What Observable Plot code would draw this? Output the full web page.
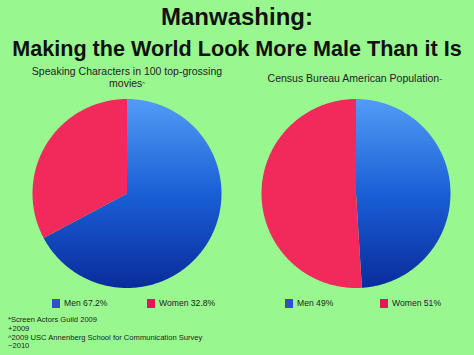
<!DOCTYPE html>
<html><head><meta charset="utf-8">
<script src="https://cdn.jsdelivr.net/npm/d3@7"></script>
<script src="https://cdn.jsdelivr.net/npm/@observablehq/plot@0.6"></script>
<style>
html,body{margin:0;padding:0;background:#98f88f;}
#wrap{position:relative;width:474px;height:355px;overflow:hidden;font-family:"Liberation Sans",Arial,sans-serif;color:#111;}
.title{position:absolute;left:0;width:474px;text-align:center;font-weight:bold;white-space:nowrap;}
#chart{position:absolute;left:0;top:62px;}
.sub{position:absolute;text-align:center;font-size:10.5px;line-height:11.5px;color:#222;}
.leg{position:absolute;font-size:8.6px;color:#222;white-space:nowrap;display:flex;align-items:center;}
.sw{display:inline-block;width:8px;height:9px;margin-right:4px;}
#notes{position:absolute;left:8px;top:316px;font-size:7.6px;line-height:8.8px;color:#222;}
.mk{font-size:5.5px;line-height:0;position:relative;top:-1px;}
</style></head>
<body><div id="wrap"></div>
<script>
// ---- data ----
const titleLines = ["Manwashing:", "Making the World Look More Male Than it Is"];
const chartIds = ["movies", "census"];
const chartTitles = [["Speaking Characters in 100 top-grossing", "movies"], ["Census Bureau American Population"]];
const chartMarks = ["^", "~"];
const genders = ["Men", "Women"];
const moviesValues = [67.2, 32.8];
const censusValues = [49, 51];
const legendLabels = [["Men 67.2%", "Women 32.8%"], ["Men 49%", "Women 51%"]];
const footnotes = ["*Screen Actors Guild 2009", "+2009", "^2009 USC Annenberg School for Communication Survey", "~2010"];

// ---- layout ----
const W = 474, H = 233;
const centersX = [126.5, 355.5];
const cy = 131, R = 94.5;
const colors = ["url(#blueGrad)", "#f2295b"];
const swatch = ["#2f4fd0", "#e8145a"];

const wrap = document.getElementById("wrap");
const t1 = document.createElement("div");
t1.className = "title"; t1.style.top = "3px"; t1.style.fontSize = "24px"; t1.textContent = titleLines[0];
wrap.appendChild(t1);
const t2 = document.createElement("div");
t2.className = "title"; t2.style.top = "36px"; t2.style.fontSize = "21.6px"; t2.textContent = titleLines[1];
wrap.appendChild(t2);

// slice polygons from d3.pie angles
const allValues = [moviesValues, censusValues];
const rows = [];
const pieGen = d3.pie().sort(null).value(d => d.v);
allValues.forEach((vals, ci) => {
  const arcs = pieGen(vals.map((v, i) => ({g: genders[i], v})));
  arcs.forEach(a => {
    const key = chartIds[ci] + "-" + a.data.g;
    rows.push({key, g: a.data.g, ci, a: null, r: 0});
    const n = Math.max(2, Math.ceil((a.endAngle - a.startAngle) / 0.01));
    for (let k = 0; k <= n; k++) {
      const ang = a.startAngle + (a.endAngle - a.startAngle) * k / n;
      rows.push({key, g: a.data.g, ci, a: ang, r: 1});
    }
  });
});
const px = d => centersX[d.ci] + (d.r ? R * Math.sin(d.a) : 0);
const py = d => cy - (d.r ? R * Math.cos(d.a) : 0);

const chart = Plot.plot({
  width: W, height: H, margin: 0,
  style: {background: "transparent"},
  x: {domain: [0, W], range: [0, W], axis: null},
  y: {domain: [0, H], range: [0, H], axis: null},
  color: {domain: genders, range: colors},
  marks: [
    Plot.line(rows, {x: px, y: py, z: "key", fill: "g", stroke: null, curve: "linear-closed"})
  ]
});
chart.id = "chart";
const defs = d3.select(chart).insert("defs", ":first-child");
const grad = defs.append("linearGradient").attr("id", "blueGrad").attr("x1", 0).attr("y1", 0).attr("x2", 0).attr("y2", 1);
grad.append("stop").attr("offset", "0%").attr("stop-color", "#529cf6");
grad.append("stop").attr("offset", "50%").attr("stop-color", "#1a5fd6");
grad.append("stop").attr("offset", "100%").attr("stop-color", "#0a2c9c");
wrap.appendChild(chart);

// subtitles (each line its own block)
const subPos = [{left: 22, top: 66, width: 210}, {left: 250, top: 73, width: 210}];
chartTitles.forEach((lines, i) => {
  lines.forEach((t, li) => {
    const d = document.createElement("div");
    d.className = "sub";
    Object.assign(d.style, {left: subPos[i].left + "px", top: (subPos[i].top + li * 11.5) + "px", width: subPos[i].width + "px"});
    d.innerHTML = t + (li === lines.length - 1 ? "<span class='mk'>" + chartMarks[i] + "</span>" : "");
    wrap.appendChild(d);
  });
});

// legends
const legX = [[52, 147], [285, 380]];
legendLabels.forEach((labs, ci) => {
  labs.forEach((lab, gi) => {
    const d = document.createElement("div");
    d.className = "leg";
    d.style.left = legX[ci][gi] + "px"; d.style.top = "298px";
    d.innerHTML = `<span class="sw" style="background:${swatch[gi]}"></span>${lab}`;
    wrap.appendChild(d);
  });
});

// footnotes
const notes = document.createElement("div");
notes.id = "notes";
notes.innerHTML = footnotes.join("<br>");
wrap.appendChild(notes);
</script></body></html>
